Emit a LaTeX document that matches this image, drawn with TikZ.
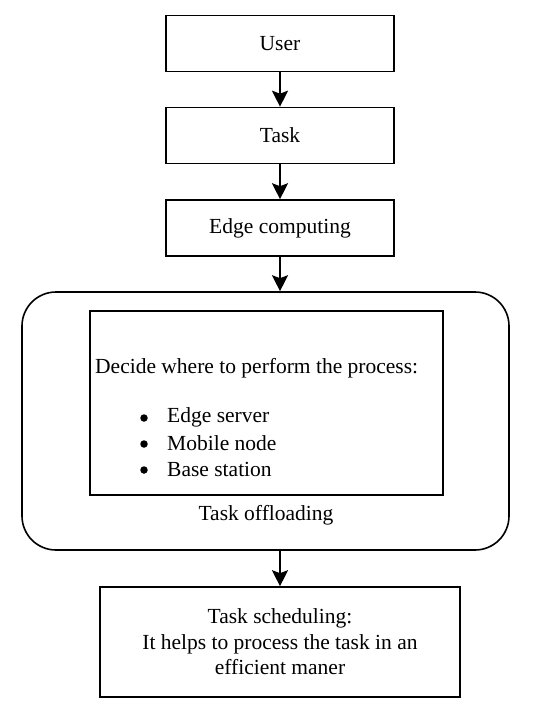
\documentclass[tikz,border=0pt]{standalone}
\usepackage{fontspec}
\setmainfont{Liberation Serif}
\usetikzlibrary{arrows.meta, positioning}

\tikzset{
    block/.style={draw, line width=1.6pt, rectangle, minimum width=228pt, minimum height=56pt, inner sep=0pt},
    flow/.style={-{Stealth[length=16pt, width=16pt, inset=3pt]}, line width=1.7pt},
    dot/.style={circle, fill, inner sep=0pt, minimum size=7.5pt},
}

\begin{document}
\begin{tikzpicture}[x=1pt, y=-1pt, font=\fontsize{21.5}{25.5}\selectfont]
% Define page
\useasboundingbox (0,0) rectangle (550,716);

% Upper blocks
\node[block] (user) at (280, 43.5) {User};
\node[block] (task) at (280, 135.5) {Task};
\node[block] (edge) at (280, 228) {Edge computing};

% Offloading frame
\node[draw, line width=1.6pt, rounded corners=34pt, minimum width=487pt, minimum height=258pt] (offload) at (265.5, 421) {};
\node[draw, line width=1.6pt, minimum width=353pt, minimum height=184pt] (decide) at (266.5, 403) {};
\node[anchor=west, inner sep=0pt] (decide-text) at (95, 368) {Decide where to perform the process:};
\foreach \lbl [count=\i] in {Edge server, Mobile node, Base station} {
    \node[dot] (dot-\i) at (144, 392 + 26*\i) {};
    \node[anchor=west, inner sep=0pt] (opt-\i) at (167, 391 + 26*\i) {\lbl};
}
\node (offload-label) at (266, 515) {Task offloading};

% Scheduling
\node[block, minimum width=360pt, minimum height=110pt, align=center] (sched) at (280, 642)
    {Task scheduling:\\It helps to process the task in an\\efficient maner};

% Arrows
\draw[flow] (user) -- (task);
\draw[flow] (task) -- (edge);
\draw[flow] (edge.south) -- (edge.south |- offload.north);
\draw[flow] (sched.north |- offload.south) -- (sched.north);
\end{tikzpicture}
\end{document}
